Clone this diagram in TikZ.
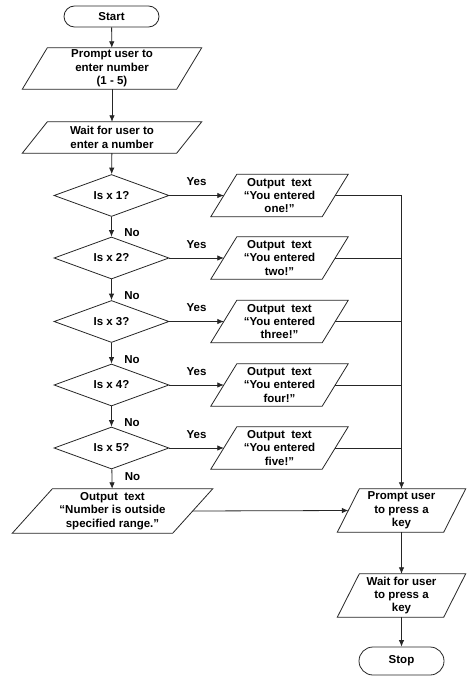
\documentclass[tikz,border=0pt]{standalone}
\usepackage{fontspec}
\setmainfont{Liberation Sans}
\usetikzlibrary{shapes.geometric,shapes.misc,arrows.meta,calc}
\begin{document}
\begin{tikzpicture}[x=1pt,y=-1pt,
  every node/.style={font=\fontsize{11.5}{13.3}\selectfont\bfseries, inner sep=0pt, align=center, text=black},
  line/.style={draw=black!85, line width=0.8pt},
  arr/.style={line, -{Latex[length=6.5pt,width=5.5pt]}},
  term/.style={rounded rectangle, draw=black!85, line width=0.8pt},
  io/.style={rectangle},
  dec/.style={diamond, draw=black!85, line width=0.8pt, minimum width=115pt, minimum height=42pt, aspect=2.7},
  lbl/.style={font=\fontsize{11.5}{13.3}\selectfont\bfseries}
]
\fill[white] (0,0) rectangle (474,684);
\useasboundingbox (0,0) rectangle (474,684);

\node[term, minimum width=95pt, minimum height=21pt] (start) at (111.5,16.5) {Start};
\node[io, minimum width=154pt, minimum height=41pt] (p1) at (112,68.5) {Prompt user to\\enter number\\(1 - 5)};
\node[io, minimum width=154pt, minimum height=31pt] (p2) at (112,137.5) {Wait for user to\\enter a number};

\node[dec] (d1) at (111.5,195.5) {Is x 1?};
\node[dec] (d2) at (111.5,258) {Is x 2?};
\node[dec] (d3) at (111.5,321.5) {Is x 3?};
\node[dec] (d4) at (111.5,385) {Is x 4?};
\node[dec] (d5) at (111.5,448) {Is x 5?};

\node[io, minimum width=111pt, minimum height=42pt] (o1) at (279.5,195.5) {Output\ \ text\\“You entered\\one!”};
\node[io, minimum width=111pt, minimum height=42pt] (o2) at (279.5,258) {Output\ \ text\\“You entered\\two!”};
\node[io, minimum width=111pt, minimum height=42pt] (o3) at (279.5,321.5) {Output\ \ text\\“You entered\\three!”};
\node[io, minimum width=111pt, minimum height=42pt] (o4) at (279.5,385) {Output\ \ text\\“You entered\\four!”};
\node[io, minimum width=111pt, minimum height=42pt] (o5) at (279.5,448) {Output\ \ text\\“You entered\\five!”};

\node[io, minimum width=160pt, minimum height=44pt] (no) at (112.5,511) {Output\ \ text\\“Number is outside\\specified range.”};
\node[io, minimum width=106pt, minimum height=43pt] (pk) at (401.5,510.5) {Prompt user\\to press a\\key};
\node[io, minimum width=106pt, minimum height=43pt] (wk) at (401.5,595.5) {Wait for user\\to press a\\key};
\node[term, minimum width=85pt, minimum height=28pt] (stop) at (401.5,661) {Stop};

\foreach \n/\o in {p1/12.5,p2/12.5,o1/13,o2/13,o3/13,o4/13,o5/13,no/20,pk/11,wk/11}
  \draw[line] ($(\n.north west)+(\o,0)$) -- ($(\n.north east)+(\o,0)$) -- ($(\n.south east)+(-\o,0)$) -- ($(\n.south west)+(-\o,0)$) -- cycle;

\draw[arr] (start) -- (p1);
\draw[arr] (p1) -- (p2);
\draw[arr] (p2) -- (d1);
\draw[arr] (d1) -- node[lbl, pos=0.8, xshift=20.5pt] {No} (d2);
\draw[arr] (d2) -- node[lbl, pos=0.8, xshift=20.5pt] {No} (d3);
\draw[arr] (d3) -- node[lbl, pos=0.8, xshift=20.5pt] {No} (d4);
\draw[arr] (d4) -- node[lbl, pos=0.8, xshift=20.5pt] {No} (d5);
\draw[arr] (d5) -- node[lbl, pos=0.35, xshift=20.5pt] {No} (no);

\foreach \i in {1,...,5}
  \draw[arr] (d\i.east) -- node[lbl, midway, yshift=13.5pt] {Yes} (o\i.west);

\draw[arr] (o1.east) -- (o1.east -| pk.north) -- (pk.north);
\foreach \i in {2,...,5}
  \draw[line] (o\i.east) -- (o\i.east -| pk.north);

\draw[arr] (no.east) -- (pk.west);
\draw[arr] (pk) -- (wk);
\draw[arr] (wk) -- (stop);
\end{tikzpicture}
\end{document}
